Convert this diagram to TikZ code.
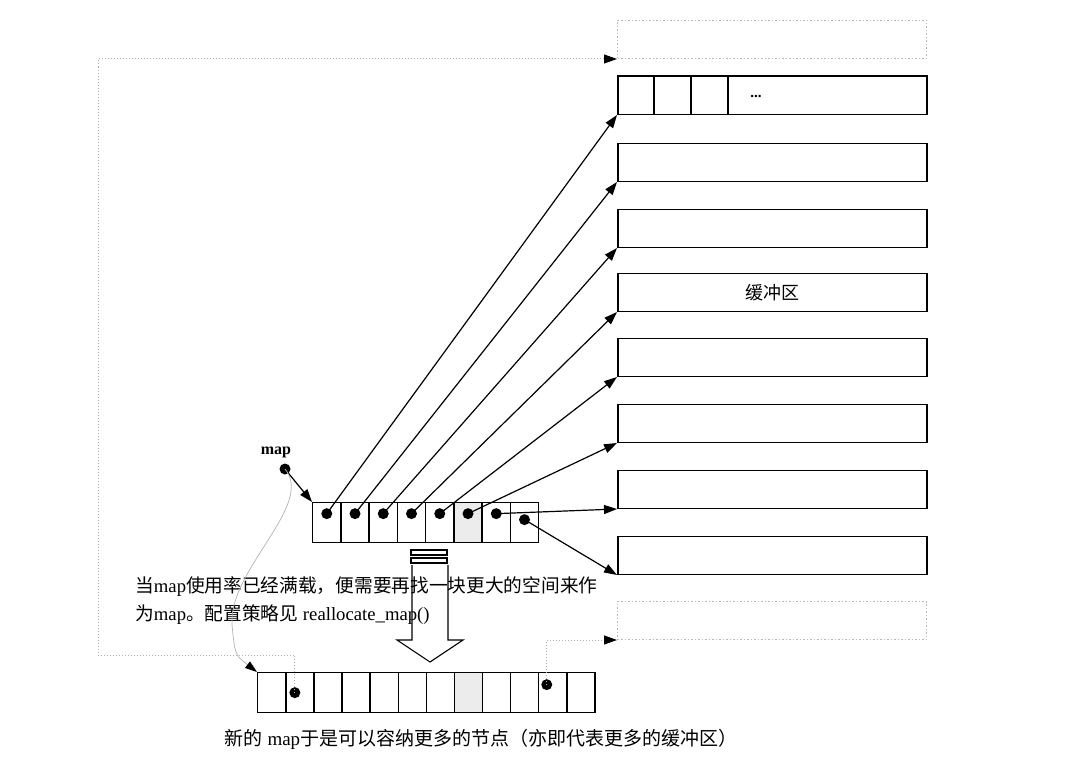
\documentclass[tikz,border=0pt]{standalone}
\usepackage{fontspec}
\setmainfont{Liberation Serif}
\newfontfamily\cjk{Noto Sans CJK SC}
\usepackage{tikz}
\usetikzlibrary{arrows.meta}

\begin{document}
\begin{tikzpicture}[x=1pt, y=-1pt,
  bufbox/.style={draw, line width=1.5pt, minimum width=309pt, minimum height=38pt,
                 inner sep=0pt, anchor=south west, font=\cjk\fontsize{18}{18}\selectfont},
  spare/.style={bufbox, draw=gray!55, dotted, line width=1pt},
  cell/.style={draw, line width=1.3pt, minimum width=28.2pt, minimum height=40pt,
               inner sep=0pt, anchor=north west},
  ptr/.style={circle, fill=black, inner sep=0pt, minimum size=11pt},
  arr/.style={->, line width=1.2pt, >={Triangle[length=13pt, width=9pt]}},
  link/.style={->, draw=gray!60, dotted, line width=1pt,
               >={Triangle[length=13pt, width=9pt, color=black]}},
  note/.style={font=\fontsize{18.7}{28}\selectfont, align=left, inner sep=0pt}
]
  \useasboundingbox (0,0) rectangle (1092,760);

  % buffers
  \node[spare]  (b1)  at (617,59)  {};
  \node[bufbox] (b2)  at (617,115) {};
  \node[bufbox] (b3)  at (617,182) {};
  \node[bufbox] (b4)  at (617,248) {};
  \node[bufbox] (b5)  at (617,312) {缓冲区};
  \node[bufbox] (b6)  at (617,377) {};
  \node[bufbox] (b7)  at (617,443) {};
  \node[bufbox] (b8)  at (617,509) {};
  \node[bufbox] (b9)  at (617,575) {};
  \node[spare]  (b10) at (617,640) {};

  \foreach \dx in {37,74,111}
    \draw[line width=1.5pt] ([xshift=\dx pt]b2.south west) -- ([xshift=\dx pt]b2.north west);
  \node[font=\fontsize{15}{15}\selectfont\bfseries] (more) at (756,96) {...};

  % old map
  \fill[gray!15] (453.25,502) rectangle (481.5,542);
  \foreach \i in {1,...,8}
    \node[cell] (o\i) at ({312+28.25*(\i-1)},502) {};
  \foreach \i in {1,...,7}
    \node[ptr] (p\i) at ([yshift=9pt]o\i.center) {};
  \node[ptr] (p8) at ([yshift=3pt]o8.center) {};

  \draw[arr] (p1.center) -- (b2.south west);
  \draw[arr] (p2.center) -- (b3.south west);
  \draw[arr] (p3.center) -- (b4.south west);
  \draw[arr] (p4.center) -- (b5.south west);
  \draw[arr] (p5.center) -- (b6.south west);
  \draw[arr] (p6.center) -- (b7.south west);
  \draw[arr] (p7.center) -- (b8.south west);
  \draw[arr] (p8.center) -- (b9.south west);

  \node[font=\bfseries\fontsize{16}{16}\selectfont] (maplbl) at (276,452) {map};
  \node[ptr] (mp) at (285,469) {};
  \draw[arr] (mp.center) -- (o1.north west);

  % hollow arrow down to the new map
  \draw[line width=1.1pt] (411,550) rectangle (447,555);
  \draw[line width=1.1pt] (411,558) rectangle (447,563);
  \draw[line width=1.1pt] (412,565) -- (412,640) -- (397,640) -- (430,662)
    -- (463,640) -- (448,640) -- (448,565);

  \node[note, anchor=north west] (why) at (135,576)
    {{\cjk 当}map{\cjk 使用率已经满载，便需要再找一块更大的空间来作}\\
     {\cjk 为}map{\cjk 。配置策略见} reallocate\_map()};

  % new map
  \fill[gray!15] (453.7,672) rectangle (481.8,712);
  \foreach \i in {1,...,12}
    \node[cell] (n\i) at ({257+28.1*(\i-1)},672) {};
  \node[ptr] (q2)  at ([xshift=-5pt]n2.center) {};
  \node[ptr] (q11) at ([xshift=-6pt,yshift=8pt]n11.center) {};

  \draw[line width=0.7pt, gray!60, ->, >={Triangle[length=12pt, width=8pt, color=black]}]
    (mp.center) .. controls (315,505) and (228,570) .. (232,625)
    .. controls (235,655) .. (n1.north west);

  \coordinate (lc) at (98,655);
  \draw[link] (q2.center) |- (lc) |- (b1.south west);
  \draw[link] (q11.center) |- (b10.south west);

  \node[font=\fontsize{19}{19}\selectfont] (caption) at (481,739)
    {{\cjk 新的} map{\cjk 于是可以容纳更多的节点（亦即代表更多的缓冲区）}};
\end{tikzpicture}
\end{document}
